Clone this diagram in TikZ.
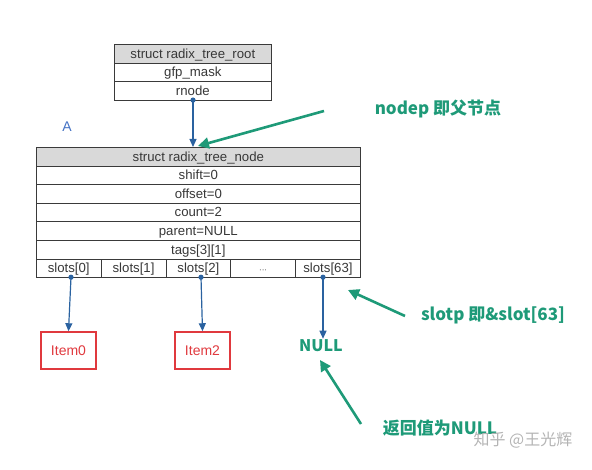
\documentclass[tikz,border=0pt]{standalone}
\usepackage{fontspec}
\setmainfont{Liberation Sans}
\newfontfamily\cjk{Noto Sans CJK SC}
\usetikzlibrary{arrows.meta}
\definecolor{hdr}{HTML}{D9D9D9}
\definecolor{edge}{HTML}{3A3A3A}
\definecolor{blu}{HTML}{2A62A0}
\definecolor{grn}{HTML}{1E9A78}
\definecolor{rd}{HTML}{E0393E}
\definecolor{ablue}{HTML}{4472C4}
\definecolor{wm}{HTML}{B4B4B4}
\begin{document}
\begin{tikzpicture}[x=1pt,y=-1pt,
  cell/.style={draw=edge, line width=0.7pt, fill=white, inner sep=0pt, anchor=north west,
    minimum height=18.6pt, text height=11pt, text depth=2pt,
    font=\fontsize{13.2}{14}\selectfont, text=black!78},
  rootcell/.style={cell, minimum width=157pt, minimum height=18.7pt},
  nodecell/.style={cell, minimum width=324pt},
  slotcell/.style={cell, minimum width=64.8pt},
  hdrcell/.style={fill=hdr},
  barrow/.style={draw=blu, line width=1.2pt, -{Triangle[length=8pt,width=7pt]}},
  garrow/.style={draw=grn, line width=2.6pt, -{Triangle[length=11pt,width=11pt]}},
  itembox/.style={draw=rd, line width=1.5pt, text=rd, minimum width=55pt, minimum height=37pt,
    inner sep=0pt, font=\fontsize{14}{15}\selectfont},
  glabel/.style={text=grn, font=\cjk\bfseries\fontsize{17}{19}\selectfont, inner sep=0pt},
  dotmark/.style={fill=blu}
]
\useasboundingbox (0,0) rectangle (592,470);

% root struct
\node[rootcell,hdrcell] (rh) at (114,44) {struct radix\_tree\_root};
\node[rootcell] (rg) at (114,62.7) {gfp\_mask};
\node[rootcell] (rn) at (114,81.4) {rnode};

% node struct
\node[nodecell,hdrcell] (mh) at (36,147) {struct radix\_tree\_node};
\node[nodecell] (ms) at (36,165.6) {shift=0};
\node[nodecell] (mo) at (36,184.2) {offset=0};
\node[nodecell] (mc) at (36,202.8) {count=2};
\node[nodecell] (mp) at (36,221.4) {parent=NULL};
\node[nodecell] (mt) at (36,240) {tags[3][1]};
\node[slotcell] (s0) at (36,258.6) {slots[0]};
\node[slotcell] (s1) at (100.8,258.6) {slots[1]};
\node[slotcell] (s2) at (165.6,258.6) {slots[2]};
\node[slotcell] (s3) at (230.4,258.6) {\fontsize{8}{9}\selectfont ···};
\node[slotcell] (s63) at (295.2,258.6) {slots[63]};

\node[text=ablue, font=\fontsize{14}{15}\selectfont] (A) at (67,127) {A};

% pointer origins
\coordinate (dr) at (193,100.1);
\coordinate (d0) at (71,277.2);
\coordinate (d2) at (201,277.2);
\coordinate (d63) at (323,277.2);

% targets
\node[itembox] (i0) at (68.5,350.5) {Item0};
\node[itembox] (i2) at (202.5,350.5) {Item2};
\node[glabel, font=\cjk\bfseries\fontsize{16}{17}\selectfont, inner sep=1pt] (nl) at (321,346) {NULL};

\draw[barrow] (dr) -- (dr |- mh.north);
\draw[barrow] (d0) -- (i0.north);
\draw[barrow] (d2) -- (i2.north);
\draw[barrow] (d63) -- (nl.north -| d63);
\foreach \p in {dr,d0,d2,d63} \fill[dotmark] (\p) circle (2.6pt);

% green annotations
\node[glabel] (ln) at (438,109) {nodep 即父节点};
\node[glabel] (ls) at (493,315) {slotp 即\&slot[63]};
\node[glabel] (lr) at (440,428) {返回值为NULL};
\coordinate (tn) at (324,111);
\coordinate (hn) at (198,146);
\coordinate (ts) at (405,316);
\coordinate (hs) at (348,290);
\coordinate (tr) at (361,424);
\coordinate (hr) at (320,360);
\draw[garrow] (tn) -- (hn);
\draw[garrow] (ts) -- (hs);
\draw[garrow] (tr) -- (hr);

\node[text=wm, font=\cjk\fontsize{16}{17}\selectfont] (wmk) at (523,440) {知乎 @王光辉};
\end{tikzpicture}
\end{document}
